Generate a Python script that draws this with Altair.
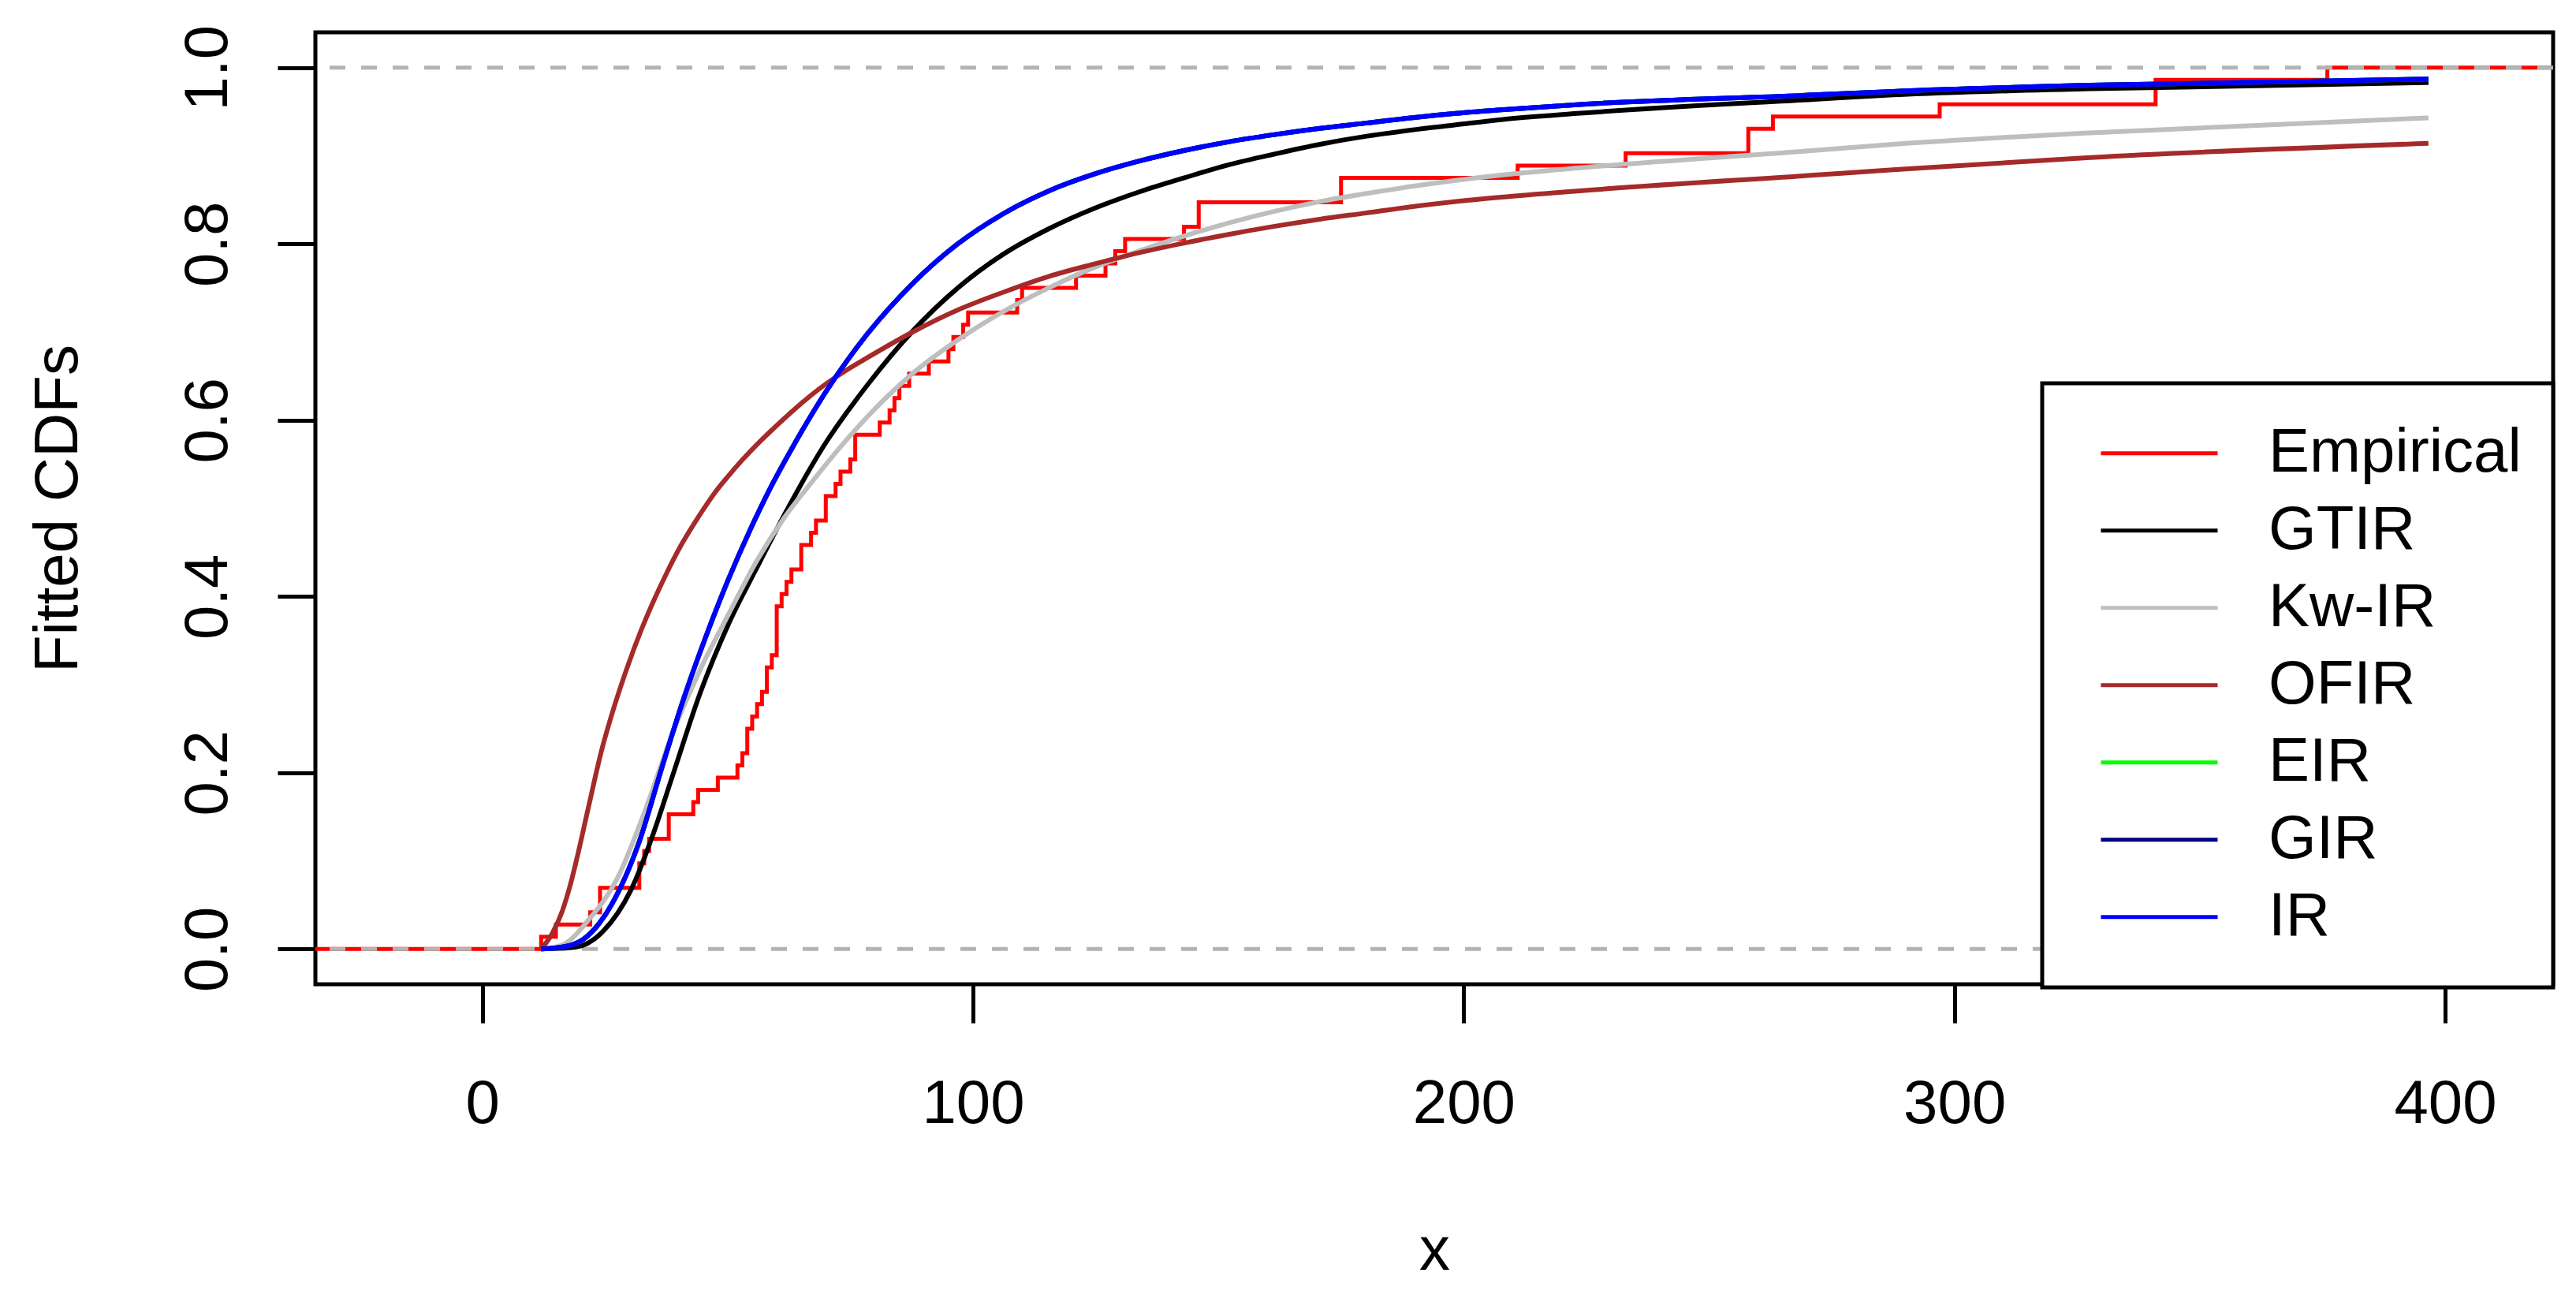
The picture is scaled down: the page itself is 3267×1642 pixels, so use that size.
import altair as alt
import numpy as np
import pandas as pd

# ---------------- data ----------------
# observations behind the empirical step function (jump positions)
obs = [12, 15, 22, 24, 24, 32, 32, 33, 34, 38, 38, 43, 44, 48, 52, 53, 54, 54,
       55, 56, 57, 58, 58, 59, 60, 60, 60, 60, 61, 62, 63, 65, 65, 67, 68, 70,
       70, 72, 73, 75, 76, 76, 81, 83, 84, 85, 87, 91, 95, 96, 98, 99, 109, 110,
       121, 127, 129, 131, 143, 146, 146, 175, 175, 211, 233, 258, 258, 263,
       297, 341, 341, 376]

series_names = ["Empirical", "GTIR", "Kw-IR", "OFIR", "EIR", "GIR", "IR"]
series_colors = ["#FF0000", "#000000", "#BEBEBE", "#A52A2A", "#00FF00", "#000080", "#0000FF"]

gtir_x = [12, 18.9, 24.6, 30.3, 34.8, 38.8, 44.5, 50.2, 55.9, 61.5, 69.5, 78.5, 87.7,
          96.9, 106.1, 115.4, 124.6, 133.9, 143.1, 152.3, 161.5, 170.7, 180, 189.2,
          198.4, 207.6, 223.1, 271.4, 287.5, 327.7, 396.6]
gtir_y = [0, 0.002, 0.020, 0.067, 0.130, 0.197, 0.292, 0.369, 0.432, 0.492, 0.570,
          0.640, 0.701, 0.750, 0.788, 0.817, 0.840, 0.859, 0.875, 0.890, 0.902, 0.913,
          0.922, 0.929, 0.935, 0.941, 0.948, 0.964, 0.969, 0.976, 0.983]

kwir_x = [12, 16.1, 21.8, 27.5, 33.1, 38.8, 44.5, 50.2, 55.9, 61.5, 67.2, 72.9, 78.5,
          87.7, 96.9, 106.1, 115.4, 124.6, 133.9, 143.1, 152.3, 161.5, 170.7, 180,
          189.2, 198.4, 207.6, 223.1, 271.4, 287.5, 327.7, 396.6]
kwir_y = [0, 0.004, 0.034, 0.080, 0.156, 0.245, 0.318, 0.380, 0.440, 0.489, 0.530,
          0.569, 0.604, 0.653, 0.691, 0.723, 0.750, 0.773, 0.792, 0.809, 0.824, 0.837,
          0.848, 0.857, 0.865, 0.872, 0.878, 0.886, 0.906, 0.913, 0.926, 0.943]

ofir_x = [12, 14.2, 16.3, 17.9, 19.5, 21.6, 24.3, 27.0, 29.7, 32.4, 35.0, 37.7, 40.4,
          43.1, 45.8, 47.3, 50.2, 53.0, 55.9, 60, 65, 70, 74, 78.5, 87.7, 96.9, 106.1,
          115.4, 124.6, 133.9, 143.1, 152.3, 161.5, 170.7, 180, 189.2, 198.4, 207.6,
          223.1, 271.4, 287.5, 327.7, 396.6]
ofir_y = [0, 0.017, 0.043, 0.072, 0.108, 0.160, 0.225, 0.277, 0.322, 0.362, 0.396,
          0.428, 0.457, 0.482, 0.505, 0.517, 0.537, 0.555, 0.572, 0.594, 0.619, 0.641,
          0.656, 0.671, 0.700, 0.725, 0.745, 0.763, 0.777, 0.790, 0.801, 0.811, 0.820,
          0.828, 0.835, 0.842, 0.848, 0.853, 0.860, 0.878, 0.884, 0.898, 0.914]

ir_x = [12, 16, 20.6, 26.3, 32, 36.5, 41.1, 45.6, 50.2, 54.7, 58.7, 62.7, 70, 78.5,
        87.7, 96.9, 106.1, 115.4, 124.6, 133.9, 143.1, 152.3, 161.5, 170.7, 180,
        189.2, 198.4, 207.6, 223.1, 271.4, 287.5, 327.7, 396.6]
ir_y = [0, 0.002, 0.011, 0.050, 0.122, 0.204, 0.285, 0.355, 0.420, 0.477, 0.523,
        0.564, 0.632, 0.698, 0.755, 0.800, 0.834, 0.860, 0.879, 0.894, 0.906, 0.916,
        0.924, 0.931, 0.937, 0.943, 0.948, 0.952, 0.958, 0.969, 0.973, 0.980, 0.987]

# EIR and GIR lie underneath the IR curve in the picture
eir_x, eir_y = list(ir_x), list(ir_y)
gir_x, gir_y = list(ir_x), list(ir_y)

x_ticks = [0, 100, 200, 300, 400]
y_ticks = [0.0, 0.2, 0.4, 0.6, 0.8, 1.0]
x_domain = [-34.01, 422.01]
y_domain = [-0.04, 1.04]

# ---------------- chart ----------------
FONT = "Liberation Sans"
FS = 78

xs = alt.Scale(domain=x_domain, nice=False, zero=False)
ys = alt.Scale(domain=y_domain, nice=False, zero=False)

x_axis = alt.Axis(values=x_ticks, format="d", tickSize=49, tickWidth=5, tickColor="black",
                  domain=False, grid=False, labelFontSize=FS, labelFont=FONT,
                  labelColor="black", labelPadding=64, labelOverlap=False, labelFlush=False,
                  title="x", titleFont=FONT, titleFontSize=FS, titleFontWeight="normal",
                  titleColor="black", titleBaseline="alphabetic", titleY=361)
y_axis = alt.Axis(values=y_ticks, format=".1f", tickSize=48, tickWidth=5, tickColor="black",
                  domain=False, grid=False, labelFontSize=FS, labelFont=FONT,
                  labelColor="black", labelAngle=270, labelAlign="center",
                  labelBaseline="alphabetic", labelPadding=65, labelOverlap=False,
                  labelFlush=False,
                  title="Fitted CDFs", titleFont=FONT, titleFontSize=FS,
                  titleFontWeight="normal", titleColor="black", titleAngle=270,
                  titleAlign="center", titleBaseline="alphabetic", titleX=-303, titleY=603.5)

legend = alt.Legend(title=None, orient="none", legendX=2190, legendY=445,
                    symbolType="stroke", symbolSize=21904, symbolStrokeWidth=5,
                    symbolOffset=32, labelOffset=62, labelFont=FONT, labelFontSize=FS,
                    labelColor="black", labelLimit=2000, padding=40, clipHeight=97.4,
                    rowPadding=0, fillColor="white", strokeColor="black")

color = alt.Color("series:N", scale=alt.Scale(domain=series_names, range=series_colors),
                  legend=legend)

vals, counts = np.unique(obs, return_counts=True)
cum = np.cumsum(counts) / len(obs)
emp_df = pd.DataFrame({
    "x": [x_domain[0] - 30] + [float(v) for v in vals] + [x_domain[1] + 30],
    "y": [0.0] + [float(c) for c in cum] + [1.0],
    "series": "Empirical",
})

emp = alt.Chart(emp_df).mark_line(interpolate="step-after", strokeWidth=5, clip=True).encode(
    x=alt.X("x:Q", scale=xs, axis=x_axis),
    y=alt.Y("y:Q", scale=ys, axis=y_axis),
    color=color,
)

ref = alt.Chart(pd.DataFrame({"y": [0.0, 1.0]})).mark_rule(
    color="#B3B3B3", strokeDash=[20, 20], strokeWidth=5
).encode(y=alt.Y("y:Q", scale=ys))


def curve(name, xv, yv):
    df = pd.DataFrame({"x": xv, "y": yv, "series": name})
    return alt.Chart(df).mark_line(interpolate="monotone", strokeWidth=6, clip=True).encode(
        x=alt.X("x:Q", scale=xs),
        y=alt.Y("y:Q", scale=ys),
        color=color,
    )


layers = [
    emp,
    ref,
    curve("GTIR", gtir_x, gtir_y),
    curve("Kw-IR", kwir_x, kwir_y),
    curve("OFIR", ofir_x, ofir_y),
    curve("EIR", eir_x, eir_y),
    curve("GIR", gir_x, gir_y),
    curve("IR", ir_x, ir_y),
]

chart = alt.layer(*layers).properties(
    width=2838, height=1207,
    padding={"left": 392, "top": 33, "right": 20, "bottom": 380},
    autosize=alt.AutoSizeParams(type="none"),
    background="white",
).configure_view(stroke="black", strokeWidth=5).configure_legend(strokeWidth=5)

chart.save("out.html", embed_options={"renderer": "svg", "actions": False})
